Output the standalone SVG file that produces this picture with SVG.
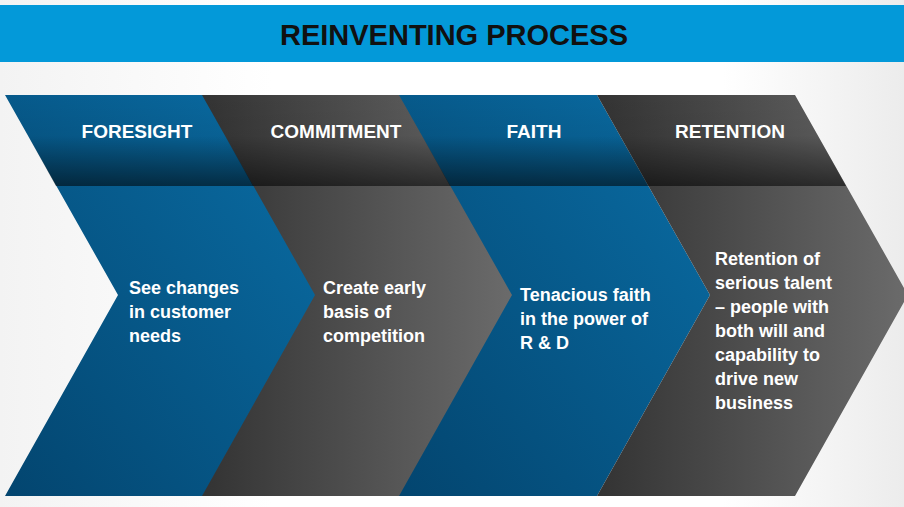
<svg xmlns="http://www.w3.org/2000/svg" width="904" height="507" viewBox="0 0 904 507">
<defs>
<linearGradient id="bg" x1="0" y1="0" x2="1" y2="0"><stop offset="0" stop-color="#f3f3f3"/><stop offset="0.3" stop-color="#ffffff"/><stop offset="0.8" stop-color="#ffffff"/><stop offset="1" stop-color="#ececec"/></linearGradient>
<linearGradient id="blue" x1="0" y1="1" x2="1" y2="0"><stop offset="0" stop-color="#03456f"/><stop offset="1" stop-color="#0a6ea6"/></linearGradient>
<linearGradient id="gray" x1="0" y1="0" x2="1" y2="0"><stop offset="0" stop-color="#333"/><stop offset="1" stop-color="#6b6b6b"/></linearGradient>
<linearGradient id="shade" x1="0" y1="0" x2="0" y2="1"><stop offset="0" stop-color="#000" stop-opacity="0"/><stop offset="0.45" stop-color="#000" stop-opacity="0.05"/><stop offset="1" stop-color="#000" stop-opacity="0.55"/></linearGradient>
<path id="chev" d="M0,95 L198,95 L311,295 L198,496 L0,496 L113,295 Z"/>
<path id="head" d="M0,95 L198,95 L249,186 L51,186 Z"/>
</defs>
<style>
.h{font-family:"Liberation Sans",Arial,sans-serif;font-weight:bold;font-size:19px;fill:#fff;text-anchor:middle}
.b{font-family:"Liberation Sans",Arial,sans-serif;font-weight:bold;font-size:18px;fill:#fff}
</style>
<rect width="904" height="507" fill="url(#bg)"/>
<rect x="0" y="5" width="904" height="57" fill="#0399d9"/>
<text x="454" y="45" font-family="Liberation Sans,Arial,sans-serif" font-weight="bold" font-size="29" text-anchor="middle" fill="#111">REINVENTING PROCESS</text>
<g id="foresight" transform="translate(5,0)">
<use href="#chev" fill="url(#blue)"/><use href="#head" fill="url(#shade)"/>
<text class="h" x="132" y="138">FORESIGHT</text>
<text class="b" x="124" y="294">See changes</text><text class="b" x="124" y="318">in customer</text><text class="b" x="124" y="342">needs</text>
</g>
<g id="commitment" transform="translate(202,0)">
<use href="#chev" fill="url(#gray)"/><use href="#head" fill="url(#shade)"/>
<text class="h" x="134" y="138">COMMITMENT</text>
<text class="b" x="121" y="294">Create early</text><text class="b" x="121" y="318">basis of</text><text class="b" x="121" y="342">competition</text>
</g>
<g id="faith" transform="translate(399,0)">
<use href="#chev" fill="url(#blue)"/><use href="#head" fill="url(#shade)"/>
<text class="h" x="135" y="138">FAITH</text>
<text class="b" x="121" y="301">Tenacious faith</text><text class="b" x="121" y="325">in the power of</text><text class="b" x="121" y="349">R &amp; D</text>
</g>
<g id="retention" transform="translate(597,0)">
<use href="#chev" fill="url(#gray)"/><use href="#head" fill="url(#shade)"/>
<text class="h" x="133" y="138">RETENTION</text>
<text class="b" x="118" y="265">Retention of</text><text class="b" x="118" y="289">serious talent</text><text class="b" x="118" y="313">– people with</text><text class="b" x="118" y="337">both will and</text><text class="b" x="118" y="361">capability to</text><text class="b" x="118" y="385">drive new</text><text class="b" x="118" y="409">business</text>
</g>
<g id="connectors"/>
</svg>
